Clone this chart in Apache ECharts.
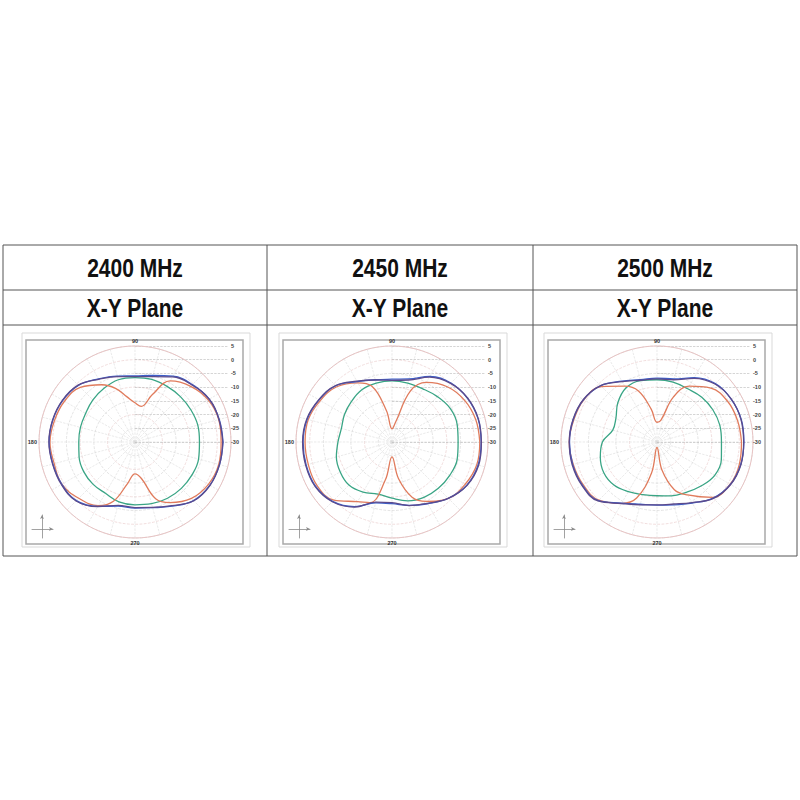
<!DOCTYPE html>
<html>
<head>
<meta charset="utf-8">
<script src="https://cdn.jsdelivr.net/npm/echarts@6/dist/echarts.min.js"></script>
<style>
  html, body { margin: 0; padding: 0; background: #fff; }
  #chart { width: 800px; height: 800px; }
</style>
</head>
<body>
<div id="chart"></div>
<script>
(function () {
  /* ========== 数据 ========== */
  const FREQS = ["2400 MHz", "2450 MHz", "2500 MHz"];
  const PLANE = "X-Y Plane";
  const ANGLE_LABELS = [90, 180, 270]; // 角度刻度只标这三个
  const DB_TICKS = { min: -30, max: 5, step: 5 }; // 右侧增益刻度

  // 紫/蓝/绿 每 15° 一个点
  const ANG = [0, 15, 30, 45, 60, 75, 90, 105, 120, 135, 150, 165,
               180, 195, 210, 225, 240, 255, 270, 285, 300, 315, 330, 345];
  // 橙色曲线上下有凹陷，点更密
  const ORANGE_ANG = [0, 15, 30, 45, 60, 70, 80, 90, 100, 110, 120, 135, 150, 165,
                      180, 195, 210, 225, 240, 250, 260, 270, 280, 290, 300, 315, 330, 345];

  // 2400 MHz
  const P1_PURPLE = [2.0, 1.7, 1.3, -0.6, -2.6, -5.3, -6.2, -5.3, -3.6, -0.7, 0.5, 1.1,
                     1.4, 1.1, 1.0, 0.4, -2.8, -6.1, -6.1, -5.3, -3.2, 0.3, 1.6, 1.9];
  const P1_BLUE = [2.1, 1.8, 1.2, -0.4, -2.3, -4.9, -5.9, -5.1, -3.4, -0.8, 0.4, 1.0,
                   1.3, 1.0, 0.8, 0.2, -2.9, -5.8, -5.9, -5.2, -3.0, 0.2, 1.5, 1.9];
  const P1_GREEN = [-6.5, -6.3, -6.5, -6.6, -6.6, -6.4, -6.5, -6.5, -7.4, -8.3, -9.2, -9.4,
                    -9.5, -8.9, -8.4, -8.3, -8.4, -7.4, -7.1, -6.7, -6.3, -6.1, -6.0, -6.0];
  const P1_ORANGE = [1.4, 1.6, 0.8, -1.3, -4.3, -11.7, -16.8, -15.7, -13.3, -9.2, -5.9, -1.8, -0.3, 0.4,
                     1.0, 0.5, 0.8, -1.0, -3.2, -7.0, -14.7, -18.4, -16.5, -8.0, -4.5, -0.9, 0.9, 1.6];

  // 2450 MHz
  const P2_PURPLE = [2.6, 2.6, 1.9, 0.2, -2.7, -6.6, -7.5, -6.6, -4.4, -0.9, 0.8, 2.2,
                     2.6, 2.6, 2.4, 0.8, -2.6, -7.3, -7.9, -6.0, -4.2, -0.9, 1.6, 2.7];
  const P2_BLUE = [2.5, 2.5, 1.8, 0.4, -2.4, -6.2, -7.1, -6.5, -4.6, -1.0, 0.7, 2.0,
                   2.4, 2.4, 2.2, 0.6, -2.8, -7.0, -7.5, -6.1, -4.0, -1.0, 1.5, 2.5];
  const P2_GREEN = [-5.9, -5.4, -5.5, -6.6, -7.6, -7.8, -7.7, -7.8, -8.0, -9.1, -10.0, -10.9,
                    -10.3, -9.0, -8.2, -7.8, -8.9, -10.3, -9.5, -7.8, -6.7, -6.1, -5.7, -5.4];
  const P2_ORANGE = [2.0, 1.6, 0.5, -1.5, -4.9, -10.1, -22.8, -25.2, -18.4, -8.3, -5.1, -1.5, 0.2, 1.6,
                     1.7, 1.6, 1.6, 0.0, -4.9, -6.5, -15.9, -24.6, -16.5, -8.6, -5.0, -1.0, 0.8, 2.0];

  // 2500 MHz
  const P3_PURPLE = [1.6, 1.7, 1.3, -0.1, -3.2, -6.5, -7.0, -6.7, -4.6, -0.9, 1.0, 1.7,
                     2.0, 2.0, 1.6, 0.4, -4.1, -6.3, -7.1, -6.6, -4.5, -0.9, 1.0, 1.7];
  const P3_BLUE = [1.7, 1.8, 1.2, 0.1, -2.9, -6.2, -6.7, -6.5, -4.4, -1.0, 0.9, 1.6,
                   1.9, 1.8, 1.4, 0.2, -4.3, -6.5, -7.0, -6.3, -4.3, -1.1, 0.9, 1.6];
  const P3_GREEN = [-6.5, -6.3, -6.5, -6.9, -7.6, -7.4, -7.3, -6.8, -7.3, -9.8, -12.7, -13.3,
                    -10.1, -8.6, -7.6, -7.8, -9.1, -10.1, -10.4, -9.7, -8.8, -7.3, -5.7, -5.7];
  const P3_ORANGE = [0.8, 0.4, -0.3, -2.2, -6.5, -12.6, -22.0, -22.8, -17.8, -10.2, -6.5, -1.4, 0.8, 1.4,
                     2.0, 1.6, 1.1, 0.0, -4.2, -8.3, -18.5, -28.0, -19.6, -11.5, -7.7, -1.4, 0.8, 1.1];

  const PLOTS = [
    { purple: P1_PURPLE, blue: P1_BLUE, green: P1_GREEN, orange: P1_ORANGE },
    { purple: P2_PURPLE, blue: P2_BLUE, green: P2_GREEN, orange: P2_ORANGE },
    { purple: P3_PURPLE, blue: P3_BLUE, green: P3_GREEN, orange: P3_ORANGE },
  ];

  /* ========== 版式 ========== */
  const CENTERS_X = [135, 392, 657];
  const CY = 442;
  const R = 96;
  const COLORS = { purple: "#5b4a8c", blue: "#3d5fc8", orange: "#e07b5c", green: "#3aa585" };
  const TABLE = { left: 3, right: 797, top: 245, row1: 290, row2: 325, bottom: 556, cols: [267, 533] };

  // 闭合曲线：[半径值, 角度]
  function toPolar(angles, vals) {
    const d = angles.map((a, i) => [vals[i], a]);
    d.push([vals[0], 360]);
    return d;
  }

  const chart = echarts.init(document.getElementById("chart"), null, { renderer: "svg" });

  const polar = [], angleAxis = [], radiusAxis = [], grid = [], xAxis = [], yAxis = [], series = [];

  CENTERS_X.forEach((cx, i) => {
    polar.push({ center: [cx, CY], radius: R });
    angleAxis.push({
      polarIndex: i,
      type: "value",
      min: 0,
      max: 360,
      interval: 15,
      startAngle: 0,
      clockwise: false,
      axisLine: { lineStyle: { color: "#e8c4c4", width: 1 } },
      axisTick: { show: false },
      axisLabel: {
        formatter: (v) => (ANGLE_LABELS.includes(v) ? String(v) : ""),
        fontSize: 5.5,
        fontWeight: "bold",
        color: "#333",
        margin: 2,
      },
      splitLine: { lineStyle: { color: "#dcdcdc", type: "dashed", width: 0.6 } },
    });
    radiusAxis.push({
      polarIndex: i,
      type: "value",
      min: DB_TICKS.min,
      max: DB_TICKS.max,
      interval: DB_TICKS.step,
      axisLine: { show: false },
      axisTick: { show: false },
      axisLabel: { show: false },
      splitLine: { show: true, lineStyle: { color: ["#ebcfcf", "#d8d8d8"], type: "dashed", width: 0.7 } },
    });

    // 右侧增益刻度：引线 + 数字
    grid.push({ left: cx, top: CY - R, width: 93, height: R });
    xAxis.push({ gridIndex: 2 * i, type: "value", min: 0, max: 1, show: false });
    yAxis.push({
      gridIndex: 2 * i,
      type: "value",
      position: "right",
      min: DB_TICKS.min,
      max: DB_TICKS.max,
      interval: DB_TICKS.step,
      axisLine: { show: false },
      axisTick: { show: false },
      axisLabel: { fontSize: 5.5, fontWeight: "bold", color: "#444", margin: 3 },
      splitLine: { lineStyle: { color: "#b8b8b8", type: "dashed", width: 0.6 } },
    });

    // 左下角坐标小图标
    grid.push({ left: cx - 103, top: 515, width: 21, height: 23 });
    xAxis.push({
      gridIndex: 2 * i + 1, type: "value", min: -10, max: 11,
      axisLine: { onZero: true, lineStyle: { color: "#8a8a8a", width: 0.8 }, symbol: ["none", "arrow"], symbolSize: [3, 4] },
      axisTick: { show: false }, axisLabel: { show: false }, splitLine: { show: false },
    });
    yAxis.push({
      gridIndex: 2 * i + 1, type: "value", min: -9, max: 14,
      axisLine: { onZero: true, lineStyle: { color: "#8a8a8a", width: 0.8 }, symbol: ["none", "arrow"], symbolSize: [3, 4] },
      axisTick: { show: false }, axisLabel: { show: false }, splitLine: { show: false },
    });

    const p = PLOTS[i];
    [
      ["green", ANG, p.green],
      ["orange", ORANGE_ANG, p.orange],
      ["blue", ANG, p.blue],
      ["purple", ANG, p.purple],
    ].forEach(([key, angs, vals]) => {
      series.push({
        type: "line",
        coordinateSystem: "polar",
        polarIndex: i,
        data: toPolar(angs, vals),
        smooth: 0.4,
        symbol: "none",
        lineStyle: { color: COLORS[key], width: 1.3 },
        silent: true,
      });
    });
  });

  /* ========== 表格与外框 ========== */
  const graphic = [];
  const lineStyle = { stroke: "#555", lineWidth: 1 };
  [TABLE.top, TABLE.row1, TABLE.row2, TABLE.bottom].forEach((y) => {
    graphic.push({ type: "line", shape: { x1: TABLE.left, y1: y, x2: TABLE.right, y2: y }, style: lineStyle });
  });
  [TABLE.left, ...TABLE.cols, TABLE.right].forEach((x) => {
    graphic.push({ type: "line", shape: { x1: x, y1: TABLE.top, x2: x, y2: TABLE.bottom }, style: lineStyle });
  });
  const colMid = [(TABLE.left + TABLE.cols[0]) / 2, (TABLE.cols[0] + TABLE.cols[1]) / 2, (TABLE.cols[1] + TABLE.right) / 2];
  colMid.forEach((mx, i) => {
    [[FREQS[i], 268], [PLANE, 308]].forEach(([txt, y]) => {
      graphic.push({
        type: "text",
        x: mx,
        y: y,
        scaleY: 1.27,
        style: {
          text: txt,
          x: 0,
          y: 0,
          font: 'bold 21px "Liberation Sans", Arial, sans-serif',
          textAlign: "center",
          textVerticalAlign: "middle",
          fill: "#111",
        },
      });
    });
  });
  CENTERS_X.forEach((cx) => {
    graphic.push({ type: "rect", shape: { x: cx - 113, y: 333, width: 228, height: 214 }, style: { fill: "none", stroke: "#d9d9d9", lineWidth: 1 } });
    graphic.push({ type: "rect", shape: { x: cx - 109, y: 340, width: 217, height: 204 }, style: { fill: "none", stroke: "#a9a9a9", lineWidth: 1.5 } });
  });

  chart.setOption({
    animation: false,
    backgroundColor: "#fff",
    polar, angleAxis, radiusAxis, grid, xAxis, yAxis, series, graphic,
  });
})();
</script>
</body>
</html>
